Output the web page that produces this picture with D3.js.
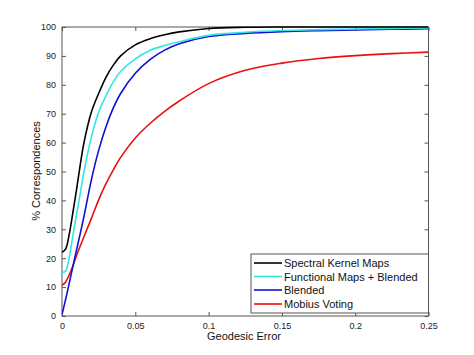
<!DOCTYPE html>
<html><head><meta charset="utf-8">
<script src="https://cdn.jsdelivr.net/npm/d3@7"></script>
<style>body{margin:0;background:#fff;} text{font-family:Arial,"Liberation Sans",sans-serif;}</style>
</head><body><svg id="c" width="474" height="355"></svg>
<script>
const geodesicError = [0, 0.0025, 0.005, 0.0075, 0.01, 0.0125, 0.015, 0.02, 0.025, 0.03, 0.035, 0.04, 0.05, 0.06, 0.07, 0.08, 0.1, 0.125, 0.15, 0.175, 0.2, 0.225, 0.25];
const spectralKernel = [22, 23.2, 28.5, 36, 44, 52.5, 60, 70.5, 77, 82.6, 86.8, 90, 93.8, 95.9, 97.3, 98.3, 99.5, 99.9, 100, 100, 100, 100, 100];
const functionalBlended = [15, 15.6, 20.5, 28, 35.5, 42.5, 50, 61.8, 70.5, 76.2, 81, 84.6, 89, 91.9, 93.6, 94.9, 97.1, 98.2, 98.8, 99.1, 99.3, 99.5, 99.7];
const blended = [0.5, 5.8, 11.5, 17.3, 23, 28.7, 34.5, 47, 57.3, 65.5, 72, 77, 84, 88.7, 92, 94.2, 96.7, 97.8, 98.4, 98.75, 99, 99.2, 99.4];
const mobiusVoting = [10.6, 11.8, 14.3, 17.5, 21, 24.3, 27.5, 33.7, 40.2, 45.8, 50.6, 54.9, 61.6, 66.6, 70.8, 74.4, 80.4, 85, 87.5, 89.1, 90.1, 90.8, 91.3];
const seriesNames = ["Spectral Kernel Maps", "Functional Maps + Blended", "Blended", "Mobius Voting"];
const seriesColors = ["#000000", "#33e5e5", "#1010d0", "#e81010"];
const xTicks = [0, 0.05, 0.1, 0.15, 0.2, 0.25];
const xTickLabels = ["0", "0.05", "0.1", "0.15", "0.2", "0.25"];
const yTicks = [0, 10, 20, 30, 40, 50, 60, 70, 80, 90, 100];

const series = [spectralKernel, functionalBlended, blended, mobiusVoting];
const svg = d3.select("#c");
const L = 62, R = 428.5, T = 27, B = 316;
const x = d3.scaleLinear().domain([0, 0.25]).range([L, R]);
const y = d3.scaleLinear().domain([0, 100]).range([B, T]);
const axisColor = "#555";

svg.append("rect").attr("x", L).attr("y", T).attr("width", R - L).attr("height", B - T)
  .attr("fill", "none").attr("stroke", axisColor).attr("stroke-width", 1);

function styleAxis(g) {
  g.select(".domain").remove();
  g.selectAll("line").attr("stroke", axisColor);
  g.selectAll("text").attr("fill", "#222").style("font-size", "9px").style("font-family", "Arial, 'Liberation Sans', sans-serif");
}
svg.append("g").attr("transform", `translate(0,${B})`)
  .call(d3.axisBottom(x).tickValues(xTicks).tickFormat((d, i) => xTickLabels[i]).tickSizeInner(-4).tickSizeOuter(0).tickPadding(7))
  .call(styleAxis);
svg.append("g").attr("transform", `translate(0,${T})`)
  .call(d3.axisTop(x).tickValues(xTicks).tickFormat("").tickSizeInner(-4).tickSizeOuter(0))
  .call(styleAxis);
svg.append("g").attr("transform", `translate(${L},0)`)
  .call(d3.axisLeft(y).tickValues(yTicks).tickSizeInner(-4).tickSizeOuter(0).tickPadding(6))
  .call(styleAxis);
svg.append("g").attr("transform", `translate(${R},0)`)
  .call(d3.axisRight(y).tickValues(yTicks).tickFormat("").tickSizeInner(-4).tickSizeOuter(0))
  .call(styleAxis);

svg.append("clipPath").attr("id", "clp").append("rect")
  .attr("x", L).attr("y", T - 1).attr("width", R - L).attr("height", B - T + 2);

const line = d3.line().x((d, i) => x(geodesicError[i])).y(d => y(Math.min(100, d))).curve(d3.curveCatmullRom.alpha(0.5));
series.slice().reverse().forEach((s, ri) => {
  const i = series.length - 1 - ri;
  svg.append("path").attr("d", line(s)).attr("fill", "none")
    .attr("stroke", seriesColors[i]).attr("stroke-width", 1.6).attr("clip-path", "url(#clp)");
});

svg.append("text").attr("x", 244).attr("y", 340).attr("text-anchor", "middle")
  .style("font-size", "11px").attr("fill", "#111").text("Geodesic Error");
svg.append("text").attr("transform", "translate(40,171) rotate(-90)").attr("text-anchor", "middle")
  .style("font-size", "11px").attr("fill", "#111").text("% Correspondences");

const lg = svg.append("g");
lg.append("rect").attr("x", 251).attr("y", 254).attr("width", R - 251).attr("height", 59)
  .attr("fill", "#fff").attr("stroke", axisColor).attr("stroke-width", 1);
const rowY = [263, 276.5, 290, 304];
seriesNames.forEach((n, i) => {
  lg.append("line").attr("x1", 254).attr("x2", 282).attr("y1", rowY[i]).attr("y2", rowY[i])
    .attr("stroke", seriesColors[i]).attr("stroke-width", 1.6);
  lg.append("text").attr("x", 284).attr("y", rowY[i] + 4).style("font-size", "11px").attr("fill", "#111").text(n);
});
</script></body></html>
